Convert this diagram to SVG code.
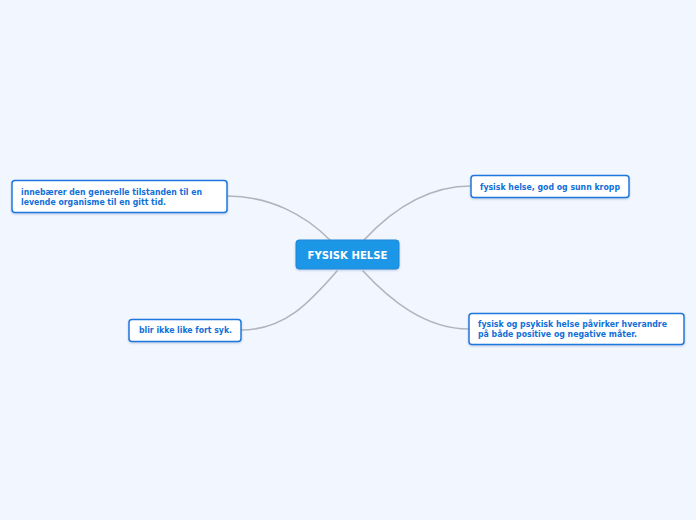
<svg xmlns="http://www.w3.org/2000/svg" width="696" height="520" viewBox="0 0 696 520">
<style>
.bg{fill:#f2f6fe}
.node rect{fill:#ffffff;stroke:#1b78dc;stroke-width:1.5}
.node text{font-family:"DejaVu Sans",Verdana,sans-serif;font-weight:bold;font-size:8.5px;fill:#1170d8}
.center rect{fill:#1e96e6;stroke:#1a88d8;stroke-width:1}
.center text{font-family:"DejaVu Sans",Verdana,sans-serif;font-weight:bold;font-size:10.5px;fill:#ffffff;text-anchor:middle}
.conn path{fill:none;stroke:#b2b4bc;stroke-width:1.6;stroke-linecap:round}
</style>
<defs>
<filter id="sh" x="-10%" y="-20%" width="120%" height="150%">
<feDropShadow dx="0" dy="1" stdDeviation="0.8" flood-color="#7090c0" flood-opacity="0.45"/>
</filter>
</defs>
<rect class="bg" x="0" y="0" width="696" height="520"/>
<g id="connectors" class="conn">
<path d="M330,240 C305,215 270,196 227,196"/>
<path d="M364,240 C390,212 425,186 471,186"/>
<path d="M337,271 C310,302 285,330 241,330"/>
<path d="M363,271 C390,300 425,329 469,329"/>
</g>
<g id="center" class="center">
<rect x="296" y="240" width="103" height="29" rx="3" filter="url(#sh)"/>
<text x="347.5" y="258.5" textLength="80" lengthAdjust="spacingAndGlyphs">FYSISK HELSE</text>
</g>
<g id="n1" class="node">
<rect x="12" y="180.5" width="215" height="32" rx="3" filter="url(#sh)"/>
<text x="21" y="195" textLength="181" lengthAdjust="spacingAndGlyphs">innebærer den generelle tilstanden til en</text>
<text x="21" y="205" textLength="145" lengthAdjust="spacingAndGlyphs">levende organisme til en gitt tid.</text>
</g>
<g id="n2" class="node">
<rect x="471" y="175.5" width="158" height="22" rx="3" filter="url(#sh)"/>
<text x="480" y="190" textLength="140" lengthAdjust="spacingAndGlyphs">fysisk helse, god og sunn kropp</text>
</g>
<g id="n3" class="node">
<rect x="129" y="319.5" width="112" height="22" rx="3" filter="url(#sh)"/>
<text x="139" y="333" textLength="93" lengthAdjust="spacingAndGlyphs">blir ikke like fort syk.</text>
</g>
<g id="n4" class="node">
<rect x="469" y="313.5" width="215" height="31" rx="3" filter="url(#sh)"/>
<text x="478" y="327" textLength="189" lengthAdjust="spacingAndGlyphs">fysisk og psykisk helse påvirker hverandre</text>
<text x="478" y="337" textLength="159" lengthAdjust="spacingAndGlyphs">på både positive og negative måter.</text>
</g>
</svg>
